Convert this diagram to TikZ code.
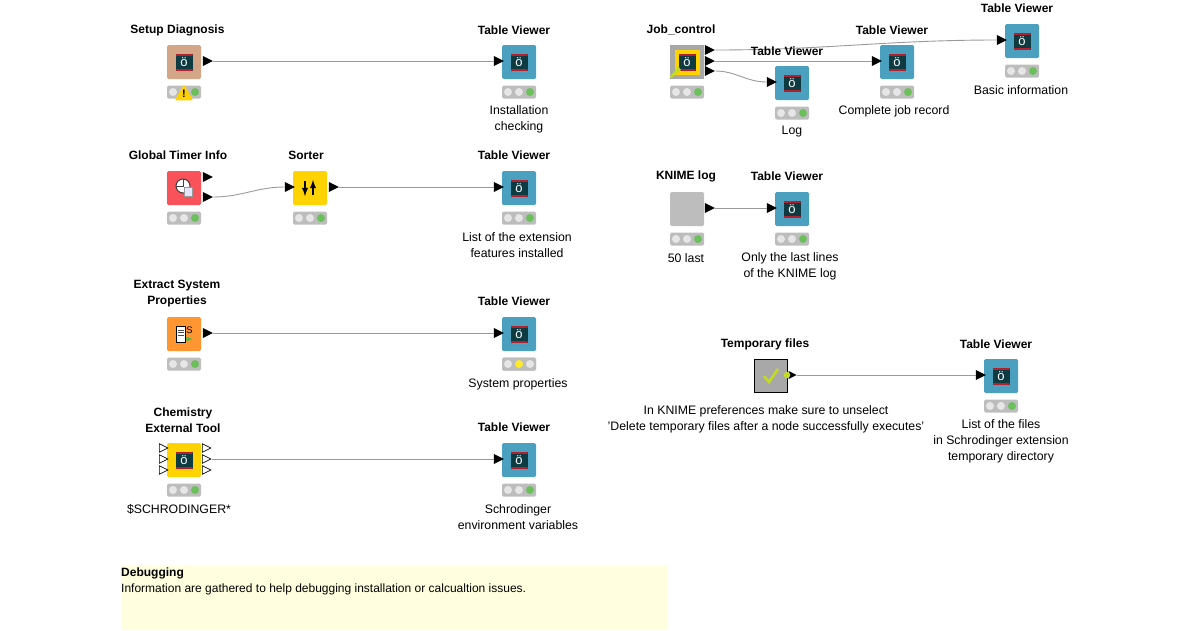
\documentclass[tikz,border=0pt]{standalone}
\usepackage{fontspec}
\setmainfont{Liberation Sans}
\usetikzlibrary{shapes.geometric}

\definecolor{viewerblue}{HTML}{4BA0C0}
\definecolor{setupbrown}{HTML}{D3A688}
\definecolor{timerred}{HTML}{F9525A}
\definecolor{sortyellow}{HTML}{FFD200}
\definecolor{extractorange}{HTML}{FF9632}
\definecolor{metagrey}{HTML}{A8A8A8}
\definecolor{emptygrey}{HTML}{BDBDBD}
\definecolor{lightoff}{HTML}{E6E6E6}
\definecolor{lightgreen}{HTML}{6CC05C}
\definecolor{lightyellow}{HTML}{FFEB2A}
\definecolor{limegreen}{HTML}{C4DC1E}
\definecolor{icondark}{HTML}{0E3A42}
\definecolor{iconred}{HTML}{B5202F}
\definecolor{noteyellow}{HTML}{FFFFE0}
\definecolor{wiregrey}{HTML}{9A9A9A}

\tikzset{
    body/.style={rounded corners=1.5, minimum size=34, inner sep=0, fill=#1},
    consoleicon/.style={minimum size=17, inner sep=0, fill=icondark, text=white,
        font=\fontsize{13}{13}\selectfont,
        path picture={
            \fill [iconred] (path picture bounding box.north west) rectangle ([yshift=-2]path picture bounding box.north east);
            \fill [iconred] (path picture bounding box.south west) rectangle ([yshift=2]path picture bounding box.south east);
        }},
    portout/.style={isosceles triangle, isosceles triangle stretches, minimum width=10, minimum height=10,
        inner sep=0, fill=black},
    portopen/.style={portout, fill=white, draw=black, line width=0.7, minimum width=8.5, minimum height=8.5},
    wire/.style={draw=wiregrey, line width=0.9},
    lightbar/.style={rounded corners=1.5, minimum width=34, minimum height=13, inner sep=0, fill=emptygrey},
    lamp/.style={circle, minimum size=8, inner sep=0, fill=#1},
    title/.style={font=\fontsize{12}{16}\selectfont\bfseries, align=center, inner sep=0},
    caption/.style={font=\fontsize{12.3}{16}\selectfont, align=center, inner sep=0},
}

% status bar under a node: name, x, y, three lamp colours
\newcommand{\statusbar}[6]{
    \node [lightbar] (#1) at (#2,#3) {};
    \node [lamp=#4] (#1a) at (#2-11,#3) {};
    \node [lamp=#5] (#1b) at (#2,#3) {};
    \node [lamp=#6] (#1c) at (#2+11,#3) {};
}
% table viewer: name, x, y
\newcommand{\viewer}[3]{
    \node [body=viewerblue] (#1) at (#2,#3) {};
    \node [consoleicon] (#1icon) at (#2,#3) {ö};
    \node [portout] (#1in) at (#2-22,#3-1) {};
    \statusbar{#1bar}{#2}{#3+30}{lightoff}{lightoff}{lightgreen}
}

\begin{document}
\begin{tikzpicture}[x=1pt, y=-1pt]
    \useasboundingbox (0,0) rectangle (1200,630);

    % left column
    \node [body=setupbrown] (setup) at (184,62) {};
    \node [consoleicon] (setupicon) at (184,62) {ö};
    \node [portout] (setupout) at (206,61) {};
    \statusbar{setupbar}{184}{92}{lightoff}{lightoff}{lightgreen}
    \node [regular polygon, regular polygon sides=3, minimum size=21, inner sep=0, fill=sortyellow, rounded corners=1] (setupwarn) at (184,95) {};
    \node [font=\fontsize{11}{11}\selectfont\bfseries, inner sep=0] (setupmark) at (184,94) {!};
    \viewer{setupview}{519}{62}
    \draw [wire] (setupout.east) -- (setupviewin.west);

    \node [body=timerred] (timer) at (184,188) {};
    \node [circle, draw=black!75, line width=1, fill=white, minimum size=14, inner sep=0] (timerclock) at (183,186) {};
    \draw [black!75, line width=0.9] (timerclock.north) -- (timerclock.center) -- (timerclock.west);
    \node [draw=black!40, fill=blue!10, minimum width=8, minimum height=9, inner sep=0] (timerdoc) at (188,192) {};
    \node [portout] (timerout1) at (206,177) {};
    \node [portout] (timerout2) at (206,197) {};
    \statusbar{timerbar}{184}{218}{lightoff}{lightoff}{lightgreen}

    \node [body=sortyellow] (sorter) at (310,188) {};
    \coordinate (sorttop1) at (305,181);
    \coordinate (sortbot1) at (305,196);
    \coordinate (sorttop2) at (313,180);
    \coordinate (sortbot2) at (313,195);
    \draw [-latex, line width=1.8] (sorttop1) -- (sortbot1);
    \draw [-latex, line width=1.8] (sortbot2) -- (sorttop2);
    \node [portout] (sorterin) at (288,187) {};
    \node [portout] (sorterout) at (332,187) {};
    \statusbar{sorterbar}{310}{218}{lightoff}{lightoff}{lightgreen}
    \viewer{sortview}{519}{188}
    \draw [wire] (timerout2.east) to [out=0, in=180] (sorterin.west);
    \draw [wire] (sorterout.east) -- (sortviewin.west);

    \node [body=extractorange] (extract) at (184,334) {};
    \node [draw=black, line width=0.9, fill=white, minimum width=9, minimum height=16, inner sep=0] (extractdoc) at (180.5,334) {};
    \draw [black!70, line width=0.8] (177.5,330) -- (183.5,330) (177.5,332.5) -- (183.5,332.5) (177.5,335) -- (183.5,335);
    \node [font=\fontsize{9.5}{9.5}\selectfont, inner sep=0] (extracts) at (189.5,330) {S};
    \draw [-latex, green!60!black!70, line width=1.2] (186,339) -- (193,339);
    \node [portout] (extractout) at (206,333) {};
    \statusbar{extractbar}{184}{364}{lightoff}{lightoff}{lightgreen}
    \viewer{extractview}{519}{334}
    \statusbar{extractviewbar}{519}{364}{lightoff}{lightyellow}{lightoff}
    \draw [wire] (extractout.east) -- (extractviewin.west);

    \node [body=sortyellow] (chem) at (184,460) {};
    \node [consoleicon] (chemicon) at (184,460) {ö};
    \node [portopen] (chemin1) at (162,448) {};
    \node [portopen] (chemin2) at (162,459) {};
    \node [portopen] (chemin3) at (162,470) {};
    \node [portopen] (chemout1) at (205,448) {};
    \node [portopen] (chemout2) at (205,459) {};
    \node [portopen] (chemout3) at (205,470) {};
    \statusbar{chembar}{184}{490}{lightoff}{lightoff}{lightgreen}
    \viewer{chemview}{519}{460}
    \draw [wire] (chemout2.east) -- (chemviewin.west);

    % right column
    \node [body=metagrey, rounded corners=0] (job) at (687,62) {};
    \node [fill=sortyellow, minimum size=25, inner sep=0] (jobframe) at (687,62) {};
    \node [consoleicon] (jobicon) at (687,62) {ö};
    \fill [limegreen] (670,77) -- (678,66) -- (681,70) -- (671,78) -- cycle;
    \node [portout] (jobout1) at (708,50) {};
    \node [portout] (jobout2) at (708,61) {};
    \node [portout] (jobout3) at (708,71) {};
    \statusbar{jobbar}{687}{92}{lightoff}{lightoff}{lightgreen}
    \viewer{logview}{792}{83}
    \viewer{recordview}{897}{62}
    \viewer{basicview}{1022}{41}
    \draw [wire] (jobout1.east) to [out=0, in=180] (basicviewin.west);
    \draw [wire] (jobout2.east) -- (recordviewin.west);
    \draw [wire] (jobout3.east) to [out=0, in=180] (logviewin.west);

    \node [body=emptygrey] (knime) at (687,209) {};
    \node [portout] (knimeout) at (708,208) {};
    \statusbar{knimebar}{687}{239}{lightoff}{lightoff}{lightgreen}
    \viewer{knimeview}{792}{209}
    \draw [wire] (knimeout.east) -- (knimeviewin.west);

    \node [minimum size=33, inner sep=0, fill=metagrey, draw=black, line width=0.9] (temp) at (771,376) {};
    \coordinate (checka) at (764,376);
    \coordinate (checkb) at (769,382);
    \coordinate (checkc) at (778,369);
    \draw [limegreen, line width=2.6] (checka) -- (checkb) -- (checkc);
    \node [portout, minimum width=8, minimum height=8] (tempout) at (791,375) {};
    \node [circle, minimum size=6.5, inner sep=0, fill=limegreen] (tempdot) at (787,375) {};
    \viewer{tempview}{1001}{376}
    \draw [wire] (tempout.east) -- (tempviewin.west);

    % names above the nodes
    \node [title] (t1) at (177.5,30) {Setup Diagnosis};
    \node [title] (t2) at (514,30) {Table Viewer};
    \node [title] (t3) at (178,155) {Global Timer Info};
    \node [title] (t4) at (306,155) {Sorter};
    \node [title] (t5) at (514,155) {Table Viewer};
    \node [title] (t6) at (177,294) {Extract System\\Properties};
    \node [title] (t7) at (514,301) {Table Viewer};
    \node [title] (t8) at (183,420) {Chemistry\\External Tool};
    \node [title] (t9) at (514,427) {Table Viewer};
    \node [title] (t10) at (681,30) {Job\_control};
    \node [title] (t11) at (787,51) {Table Viewer};
    \node [title] (t12) at (892,30) {Table Viewer};
    \node [title] (t13) at (1017,8) {Table Viewer};
    \node [title] (t14) at (686,176) {KNIME log};
    \node [title] (t15) at (787,176) {Table Viewer};
    \node [title] (t16) at (765,344) {Temporary files};
    \node [title] (t17) at (996,344) {Table Viewer};

    % captions below the nodes
    \node [caption] (c1) at (519,119) {Installation\\checking};
    \node [caption] (c2) at (517,245) {List of the extension\\features installed};
    \node [caption] (c3) at (518,384) {System properties};
    \node [caption] (c4) at (179,509) {\$SCHRODINGER*};
    \node [caption] (c5) at (518,517) {Schrodinger\\environment variables};
    \node [caption] (c6) at (792,132) {Log};
    \node [caption] (c7) at (894,111) {Complete job record};
    \node [caption] (c8) at (1021,90) {Basic information};
    \node [caption] (c9) at (686,258) {50 last};
    \node [caption] (c10) at (790,266) {Only the last lines\\of the KNIME log};
    \node [caption] (c11) at (766,419.5) {In KNIME preferences make sure to unselect\\'Delete temporary files after a node successfully executes'};
    \node [caption] (c12) at (1001,441) {List of the files\\in Schrodinger extension\\temporary directory};

    % annotation
    \node [anchor=north west, minimum width=546, minimum height=65, inner sep=0, fill=noteyellow] (note) at (121,565) {};
    \node [anchor=west, inner sep=0, font=\fontsize{12}{16}\selectfont\bfseries] (notehead) at (121,573.5) {Debugging};
    \node [anchor=west, inner sep=0, font=\fontsize{12}{16}\selectfont] (notetext) at (121,589) {Information are gathered to help debugging installation or calcualtion issues.};
\end{tikzpicture}
\end{document}
